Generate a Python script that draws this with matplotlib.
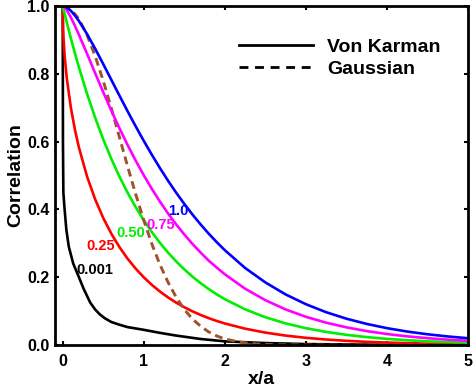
import matplotlib
matplotlib.use("Agg")
import matplotlib.pyplot as plt
from matplotlib.lines import Line2D

plt.rcParams['font.family'] = ['Liberation Sans', 'DejaVu Sans']
plt.rcParams['font.weight'] = 'bold'

# Von Karman curves
x_vk = [0.0, 0.005, 0.01, 0.025, 0.05, 0.1, 0.15, 0.2, 0.3, 0.4, 0.5, 0.6,
        0.7, 0.8, 0.9, 1.0, 1.1, 1.2, 1.3, 1.4, 1.5, 1.6, 1.7, 1.8, 1.9, 2.0,
        2.25, 2.5, 2.75, 3.0, 3.25, 3.5, 3.75, 4.0, 4.25, 4.5, 4.75, 5.0]
y_025 = [1.0, 0.9324, 0.9044, 0.8490, 0.7870, 0.7004, 0.6356, 0.5824, 0.4971,
         0.4298, 0.3746, 0.3282, 0.2888, 0.2548, 0.2254, 0.1998, 0.1774,
         0.1577, 0.1404, 0.1251, 0.1116, 0.0996, 0.0890, 0.0795, 0.0711,
         0.0637, 0.0484, 0.0368, 0.0280, 0.0214, 0.0164, 0.0125, 0.0096,
         0.0074, 0.0057, 0.0044, 0.0033, 0.0026]
y_050 = [1.0, 0.9950, 0.9900, 0.9753, 0.9512, 0.9048, 0.8607, 0.8187, 0.7408,
         0.6703, 0.6065, 0.5488, 0.4966, 0.4493, 0.4066, 0.3679, 0.3329,
         0.3012, 0.2725, 0.2466, 0.2231, 0.2019, 0.1827, 0.1653, 0.1496,
         0.1353, 0.1054, 0.0821, 0.0639, 0.0498, 0.0388, 0.0302, 0.0235,
         0.0183, 0.0143, 0.0111, 0.0087, 0.0067]
y_075 = [1.0, 0.9995, 0.9986, 0.9951, 0.9869, 0.9659, 0.9413, 0.9147, 0.8587,
         0.8016, 0.7454, 0.6910, 0.6392, 0.5900, 0.5438, 0.5006, 0.4602,
         0.4227, 0.3878, 0.3556, 0.3260, 0.2983, 0.2731, 0.2490, 0.2285,
         0.2087, 0.1662, 0.1323, 0.1051, 0.0834, 0.0660, 0.0523, 0.0413,
         0.0326, 0.0257, 0.0203, 0.0160, 0.0126]
y_100 = [1.0, 0.9999, 0.9997, 0.9987, 0.9955, 0.9854, 0.9717, 0.9552, 0.9168,
         0.8738, 0.8282, 0.7817, 0.7352, 0.6894, 0.6449, 0.6019, 0.5608,
         0.5215, 0.4843, 0.4491, 0.4161, 0.3850, 0.3560, 0.3287, 0.3034,
         0.2797, 0.2273, 0.1847, 0.1493, 0.1205, 0.0969, 0.0778, 0.0624,
         0.0499, 0.0399, 0.0319, 0.0254, 0.0202]

x_0001 = [0.0, 0.003, 0.008, 0.02, 0.045, 0.075, 0.13, 0.2, 0.26, 0.34, 0.4,
          0.46, 0.52, 0.6, 0.7, 0.8, 0.9, 1.0, 1.2, 1.4, 1.7, 2.0, 2.5, 3.0,
          4.0, 5.0]
y_0001 = [1.0, 0.60, 0.45, 0.41, 0.34, 0.29, 0.24, 0.20, 0.165, 0.125, 0.105,
          0.09, 0.079, 0.068, 0.060, 0.053, 0.049, 0.045, 0.036, 0.028, 0.018,
          0.011, 0.006, 0.003, 0.001, 0.0005]

# Gaussian curve
x_gauss = [0.0, 0.1, 0.2, 0.3, 0.4, 0.5, 0.6, 0.7, 0.8, 0.9, 1.0, 1.1, 1.2,
           1.3, 1.4, 1.5, 1.6, 1.7, 1.8, 1.9, 2.0, 2.2, 2.4, 2.6, 3.0, 4.0, 5.0]
y_gauss = [1.0, 0.990, 0.961, 0.914, 0.852, 0.779, 0.698, 0.613, 0.527, 0.445,
           0.368, 0.298, 0.237, 0.185, 0.141, 0.105, 0.077, 0.056, 0.039,
           0.027, 0.018, 0.008, 0.003, 0.001, 0.0, 0.0, 0.0]

labels = ['0.001', '0.25', '0.50', '0.75', '1.0']
colors = ['black', '#ff0000', '#00ee00', '#ff00ff', '#0000ff']
label_pos = [(0.395, 0.221), (0.47, 0.292), (0.84, 0.330), (1.21, 0.354), (1.43, 0.395)]

fig = plt.figure(figsize=(4.74, 3.86), dpi=100)
ax = fig.add_axes([0.1152, 0.106, 0.8721, 0.879])

lw = 1.9
ax.plot(x_0001, y_0001, color=colors[0], lw=lw)
ax.plot(x_vk, y_025, color=colors[1], lw=lw)
ax.plot(x_vk, y_050, color=colors[2], lw=lw)
ax.plot(x_gauss, y_gauss, color='#a0522d', lw=2.1, ls=(0, (2.7, 1.7)))
ax.plot(x_vk, y_075, color=colors[3], lw=lw)
ax.plot(x_vk, y_100, color=colors[4], lw=lw)

for txt, c, (px, py) in zip(labels, colors, label_pos):
    ax.text(px, py, txt, color=c, fontsize=10.5, fontweight='bold',
            ha='center', va='center')

ax.set_xlim(-0.1, 5.0)
ax.set_ylim(0, 1.0)
ax.set_xticks([0, 1, 2, 3, 4, 5])
ax.set_yticks([0.0, 0.2, 0.4, 0.6, 0.8, 1.0])
ax.set_yticklabels(['0.0', '0.2', '0.4', '0.6', '0.8', '1.0'])
ax.tick_params(direction='in', top=True, right=True, length=3, width=1.5,
               labelsize=11.5)
ax.tick_params(axis='x', pad=6.5)
ax.tick_params(axis='y', pad=3.5)
for s in ax.spines.values():
    s.set_linewidth(2)

ax.set_xlabel('x/a', fontsize=14, fontweight='bold', labelpad=1)
ax.set_ylabel('Correlation', fontsize=14, fontweight='bold', labelpad=2)

handles = [Line2D([], [], color='black', lw=2),
           Line2D([], [], color='black', lw=2, ls=(0, (3.2, 2.4)))]
ax.legend(handles, ['Von Karman', 'Gaussian'], loc='upper left',
          bbox_to_anchor=(0.446, 0.905), frameon=False, fontsize=14,
          handlelength=3.8, handletextpad=0.75, labelspacing=0.25,
          borderpad=0, borderaxespad=0)

fig.savefig('out.png', dpi=100)
